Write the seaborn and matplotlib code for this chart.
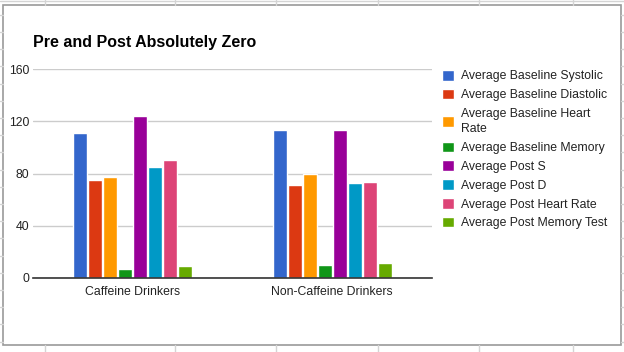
import matplotlib
matplotlib.use('Agg')
import matplotlib.pyplot as plt
from matplotlib.lines import Line2D
from matplotlib.patches import Rectangle
import seaborn as sns
import pandas as pd

groups = ['Caffeine Drinkers', 'Non-Caffeine Drinkers']
series = ['Average Baseline Systolic', 'Average Baseline Diastolic',
          'Average Baseline Heart\nRate', 'Average Baseline Memory',
          'Average Post S', 'Average Post D', 'Average Post Heart Rate',
          'Average Post Memory Test']
caffeine = [111, 75, 77.5, 7, 124, 85, 90.5, 9.3]
non_caffeine = [113.5, 71.5, 80, 9.7, 113, 73, 73.7, 11.2]
colors = ['#3366cc', '#dc3912', '#ff9900', '#109618',
          '#990099', '#0099c6', '#dd4477', '#66aa00']
yticks = [0, 40, 80, 120, 160]

rows = []
for g, vals in zip(groups, [caffeine, non_caffeine]):
    for s, v in zip(series, vals):
        rows.append({'group': g, 'series': s, 'value': v})
df = pd.DataFrame(rows)

sns.set_style('white')
plt.rcParams['font.family'] = ['Liberation Sans', 'DejaVu Sans']

W, H = 624, 352
fig = plt.figure(figsize=(W / 100, H / 100), dpi=100)

# spreadsheet cells behind the chart
grid_c = '#d4d4d4'
fig.add_artist(Line2D([0, 1], [1 - 1 / H, 1 - 1 / H], color=grid_c, lw=1))
for x in [45, 175, 276, 378, 479, 573]:
    fig.add_artist(Line2D([x / W, x / W], [1, 1 - 5 / H], color=grid_c, lw=1))
    fig.add_artist(Line2D([x / W, x / W], [0, 1 - 345 / H], color=grid_c, lw=1))
y = 14.8
while y < 345:
    fig.add_artist(Line2D([0, 3 / W], [1 - y / H, 1 - y / H], color=grid_c, lw=1))
    fig.add_artist(Line2D([621 / W, 1], [1 - y / H, 1 - y / H], color=grid_c, lw=1))
    y += 17.2
fig.add_artist(Rectangle((3 / W, 1 - 345 / H), 618 / W, 340 / H, facecolor='white',
                         edgecolor='#9a9a9a', lw=1.2, transform=fig.transFigure, zorder=1))

ax = fig.add_axes([33 / W, 74 / H, 399 / W, 209 / H])
ax.set_zorder(2)
ax.patch.set_alpha(0)
sns.barplot(data=df, x='group', y='value', hue='series', palette=colors,
            saturation=1, width=0.6, gap=0.07, ax=ax, legend=True)

ax.set_ylim(0, 160)
ax.set_yticks(yticks)
ax.set_yticklabels([str(t) for t in yticks])
ax.yaxis.grid(True, color='#cccccc', lw=1)
ax.set_axisbelow(True)
for s in ['top', 'right', 'left']:
    ax.spines[s].set_visible(False)
ax.spines['bottom'].set_color('#333333')
ax.spines['bottom'].set_linewidth(1.2)
ax.spines['bottom'].set_zorder(5)
ax.tick_params(axis='both', length=0, labelsize=8.8, colors='#222222')
ax.tick_params(axis='x', pad=6)
ax.tick_params(axis='y', pad=2.5)
ax.set_xlabel('')
ax.set_ylabel('')

handles, labels = ax.get_legend_handles_labels()
ax.get_legend().remove()
leg = fig.legend(handles, labels, loc='upper left', bbox_to_anchor=(442 / W, 1 - 70 / H),
                 frameon=False, fontsize=8.8, handlelength=0.95, handleheight=0.95,
                 handletextpad=0.6, labelspacing=0.52, labelcolor='#222222',
                 borderaxespad=0, borderpad=0)
for t in leg.get_texts():
    t.set_linespacing(1.4)

fig.text(33 / W, 1 - 43 / H, 'Pre and Post Absolutely Zero', fontsize=11.5,
         fontweight='bold', va='center', ha='left', color='black', zorder=3)

fig.savefig('out.png', dpi=100)
